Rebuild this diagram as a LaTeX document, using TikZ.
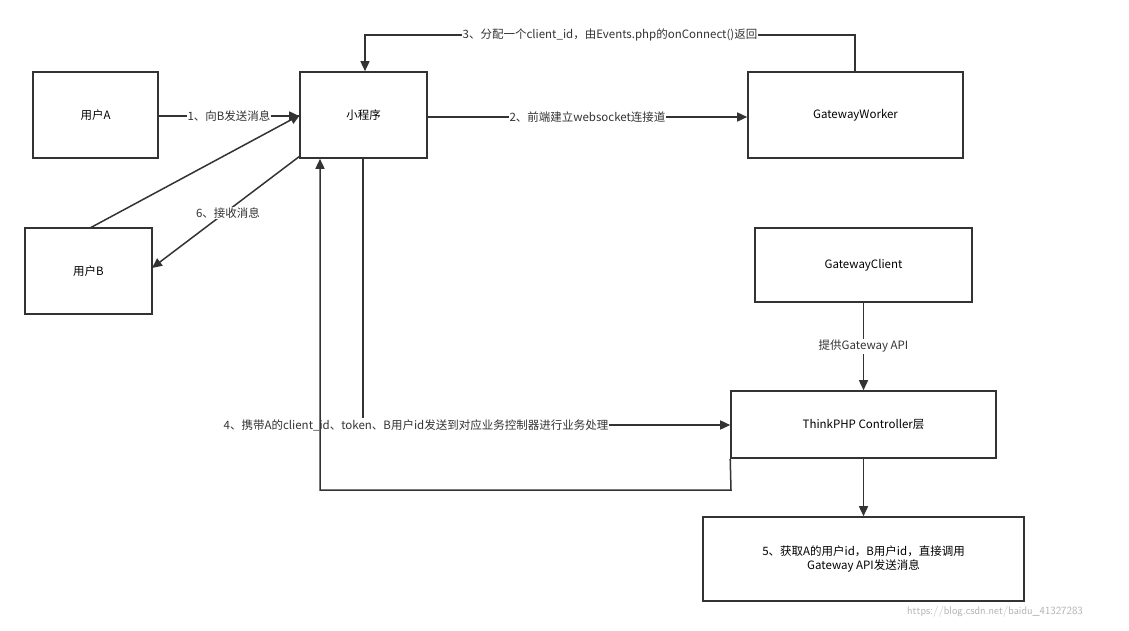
\documentclass[tikz,border=0pt]{standalone}
\usepackage{fontspec}
\setmainfont{Noto Sans CJK SC}
\usetikzlibrary{arrows.meta}
\definecolor{ln}{HTML}{333333}
\begin{document}
\begin{tikzpicture}[x=1pt,y=-1pt,
  box/.style={draw=ln,line width=1.6pt,fill=white,inner sep=0pt,font=\fontsize{11.5}{14}\selectfont,align=center},
  conn/.style={draw=ln,line width=1.5pt,-{Triangle[length=10pt,width=9pt]}},
  lbl/.style={fill=white,inner sep=1pt,font=\fontsize{11.5}{14}\selectfont,text=ln}]
\useasboundingbox (0,0) rectangle (1129,631);
\fill[white] (0,0) rectangle (1129,631);
\node[box,minimum width=125pt,minimum height=86pt] (A) at (95.5,115) {用户A};
\node[box,minimum width=127pt,minimum height=86pt] (P) at (363.5,115) {小程序};
\node[box,minimum width=215pt,minimum height=86pt] (W) at (855.5,115) {GatewayWorker};
\node[box,minimum width=127pt,minimum height=86pt] (B) at (88.5,271) {用户B};
\node[box,minimum width=217pt,minimum height=74pt] (C) at (863.5,265) {GatewayClient};
\node[box,minimum width=265pt,minimum height=67pt] (T) at (863.5,424.5) {ThinkPHP Controller层};
\node[box,minimum width=321pt,minimum height=84pt] (F) at (863.5,559) {5、获取A的用户id，B用户id，直接调用\\Gateway API发送消息};

\draw[conn] (A.east|-0,116) -- node[lbl]{1、向B发送消息} (P.west|-0,116);
\draw[conn] (P.east|-0,117) -- node[lbl]{2、前端建立websocket连接道} (W.west|-0,117);
\coordinate (w3) at (855,35); \coordinate (p3) at (365,35);
\draw[conn] (W.north-|w3) -- (w3) -- node[lbl,pos=0.5]{3、分配一个client\_id，由Events.php的onConnect()返回} (p3) -- (P.north-|p3);
\coordinate (bt) at (90,228); \coordinate (pt) at (300,115);
\draw[conn] (bt) -- (pt);
\coordinate (ps) at (300,156); \coordinate (bs) at (152,268);
\draw[conn] (ps) -- (bs);
\node[lbl] at (228,213) {6、接收消息};
\coordinate (q1) at (363,425);
\draw[conn] (P.south-|q1) -- (q1) -- (T.west|-q1);
\node[lbl] at (416,425) {4、携带A的client\_id、token、B用户id发送到对应业务控制器进行业务处理};
\coordinate (r1) at (731,490); \coordinate (r2) at (320,490);
\draw[conn] (T.south west) -- (r1) -- (r2) -- (P.south-|r2);
\draw[conn] (C.south) -- node[lbl]{提供Gateway API} (T.north);
\draw[conn] (T.south) -- (F.north);
\node[text=gray!60,font=\fontsize{11}{13}\selectfont\sffamily] at (995,612) {https://blog.csdn.net/baidu\_41327283};
\end{tikzpicture}
\end{document}
